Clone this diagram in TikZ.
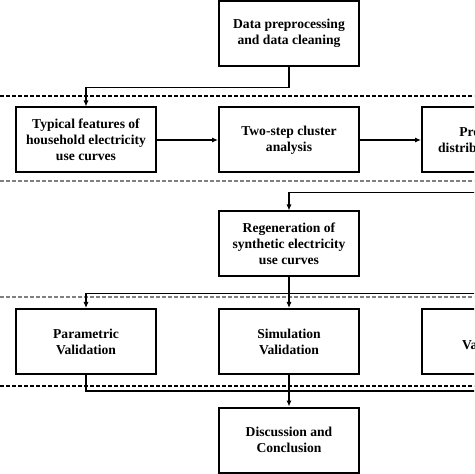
\documentclass[tikz,border=0pt]{standalone}
\usepackage{fontspec}
\setmainfont{Liberation Serif}
\usepackage{tikz}
\usetikzlibrary{arrows.meta}
\tikzset{>=latex}
\tikzstyle{stage} = [rectangle, draw=black, line width=1pt, minimum width=70pt, minimum height=32.5pt, inner sep=0pt, align=center, font=\bfseries\fontsize{6.8}{8}\selectfont]
\tikzstyle{flow} = [-{Latex[length=3pt,width=2.6pt]}, line width=0.65pt]
\tikzstyle{divider} = [line width=0.6pt, dash pattern=on 1.75pt off 1.25pt]

\begin{document}
\begin{tikzpicture}[x=0.5pt, y=-0.5pt]
\clip (0,0) rectangle (474,474);
\fill[white] (0,0) rectangle (474,474);
% stages
\node [stage] (data) at (289, 33.5) {Data preprocessing\\and data cleaning};
\node [stage] (feat) at (86, 140) {Typical features of\\household electricity\\use curves};
\node [stage] (clus) at (289, 140) {Two-step cluster\\analysis};
\node [stage] (prob) at (492, 140) {Probability\\distribution model};
\node [stage] (regen) at (289, 244) {Regeneration of\\synthetic electricity\\use curves};
\node [stage] (param) at (86, 341.5) {Parametric\\Validation};
\node [stage] (simu) at (289, 341.5) {Simulation\\Validation};
\node [stage] (third) at (492, 341.5) {\mbox{}\\Validation};
\node [stage] (disc) at (289, 440) {Discussion and\\Conclusion};
% dividers
\draw [divider] (0, 96) -- (474, 96);
\draw [divider, draw=gray] (0, 181) -- (474, 181);
\draw [divider, draw=gray] (0, 297) -- (474, 297);
\draw [divider] (0, 386) -- (474, 386);
% connectors
\draw [flow] (data.south) -- ++(0, 20.5) -| (feat.north);
\draw [flow] (feat) -- (clus);
\draw [flow] (clus) -- (prob);
\draw [flow] (prob.south) -- ++(0, 19) -| (regen.north);
\draw [line width=0.65pt] (regen.south) -- ++(0, 16) coordinate (split);
\draw [flow] (split) -| (param.north);
\draw [flow] (split) -| (third.north);
\draw [flow] (split) -- (simu.north);
\draw [line width=0.65pt] (param.south) -- ++(0, 16) -| (third.south);
\draw [flow] (simu) -- (disc);
\end{tikzpicture}
\end{document}
